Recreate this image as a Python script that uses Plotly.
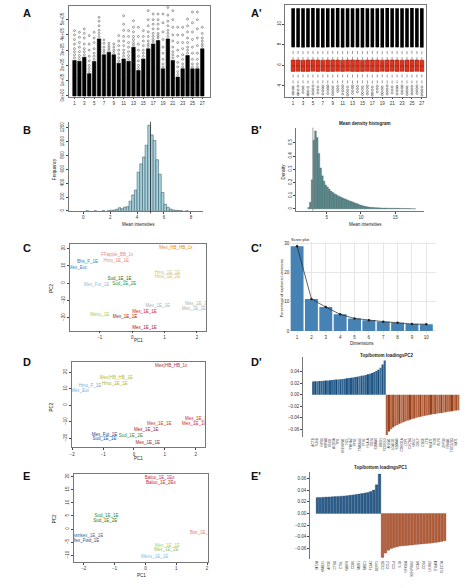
import plotly.graph_objects as go

W, H = 474, 588

# ---------------- DATA ----------------
# Panel A: raw intensities boxplots (units of 1e5)
A_samples = list(range(1, 28))
A_tick_vals = [1, 3, 5, 7, 9, 11, 13, 15, 17, 19, 21, 23, 25, 27]
A_dense_top = [2.33, 2.28, 2.54, 1.46, 2.26, 3.74, 2.70, 2.87, 2.70, 2.15, 2.43, 2.28, 3.20, 1.67,
               2.43, 3.09, 3.41, 3.63, 1.78, 3.74, 2.33, 1.24, 1.78, 2.65, 1.78, 1.78, 3.09]
A_outliers = [
    [2.5, 2.7, 2.9, 3.1, 3.4, 3.7, 4.0, 4.28], [2.45, 2.65, 2.9, 3.2, 3.5, 3.85, 4.17],
    [2.7, 2.9, 3.1, 3.4, 3.8, 4.1, 4.39], [1.6, 1.8, 2.0, 2.3, 2.6, 3.0, 3.4, 3.96],
    [2.4, 2.6, 2.8, 3.1, 3.5, 3.8, 4.17], [3.9, 4.1, 4.3, 4.6, 4.9, 5.15],
    [2.85, 3.0, 3.2, 3.45, 3.67], [3.0, 3.15, 3.3, 3.46], [2.85, 3.0, 3.2, 3.41],
    [2.3, 2.5, 2.75, 3.0, 3.3, 3.6, 3.96], [2.6, 2.8, 3.0, 3.3, 3.6, 3.9, 4.3, 4.7, 5.26],
    [2.45, 2.65, 2.9, 3.2, 3.5, 3.9, 4.28], [3.35, 3.5, 3.7, 3.9, 4.2, 4.5, 4.93],
    [1.8, 2.0, 2.3, 2.6, 3.0, 3.4, 3.9, 4.5], [2.6, 2.8, 3.0, 3.3, 3.6, 3.9, 4.28],
    [3.25, 3.4, 3.6, 3.9, 4.2, 4.6, 5.0, 5.59], [3.55, 3.7, 3.9, 4.1, 4.4, 4.7, 5.0, 5.37],
    [3.8, 3.95, 4.1, 4.4, 4.7, 5.0, 5.37], [1.9, 2.1, 2.4, 2.8, 3.2, 3.7, 4.2, 4.8, 5.37],
    [3.9, 4.1, 4.3, 4.6, 4.9, 5.3, 5.8], [2.5, 2.7, 2.9, 3.2, 3.6, 4.0, 4.5, 5.0, 5.59],
    [1.4, 1.6, 1.9, 2.2, 2.6, 3.0, 3.5, 4.0, 4.5], [1.9, 2.1, 2.4, 2.7, 3.1, 3.5, 4.0, 4.5],
    [2.8, 3.0, 3.2, 3.5, 3.8, 4.2, 4.6, 5.04], [1.9, 2.1, 2.4, 2.8, 3.2, 3.7, 4.2, 4.8, 5.5],
    [1.9, 2.1, 2.4, 2.8, 3.3, 3.8, 4.4, 5.0, 5.5], [3.25, 3.4, 3.6, 3.8, 4.1, 4.5],
]
A_ytick_vals = [0, 1, 2, 3, 4, 5]
A_ytick_text = ["0e+00", "1e+05", "2e+05", "3e+05", "4e+05", "5e+05"]

# Panel A': normalized intensities (log2)
A2_q1 = [5.40, 5.41, 5.39, 5.40, 5.42, 5.40, 5.41, 5.39, 5.40, 5.41, 5.40, 5.42, 5.40, 5.39,
         5.40, 5.41, 5.40, 5.39, 5.41, 5.40, 5.42, 5.40, 5.41, 5.39, 5.40, 5.41, 5.40]
A2_median = [5.93, 5.94, 5.92, 5.93, 5.94, 5.93, 5.92, 5.93, 5.94, 5.93, 5.92, 5.93, 5.94, 5.93,
             5.92, 5.93, 5.94, 5.93, 5.92, 5.93, 5.94, 5.93, 5.92, 5.93, 5.94, 5.93, 5.92]
A2_q3 = [6.50, 6.51, 6.49, 6.50, 6.52, 6.50, 6.49, 6.50, 6.51, 6.50, 6.49, 6.50, 6.52, 6.50,
         6.49, 6.50, 6.51, 6.50, 6.49, 6.50, 6.51, 6.50, 6.49, 6.50, 6.52, 6.50, 6.49]
A2_whisk_lo = [4.23, 4.22, 4.24, 4.23, 4.22, 4.23, 4.24, 4.23, 4.22, 4.23, 4.24, 4.23, 4.22,
               4.23, 4.24, 4.23, 4.22, 4.23, 4.24, 4.23, 4.22, 4.23, 4.24, 4.23, 4.22, 4.23, 4.24]
A2_whisk_hi = [7.74, 7.75, 7.73, 7.74, 7.75, 7.74, 7.73, 7.74, 7.75, 7.74, 7.73, 7.74, 7.75, 7.74,
               7.73, 7.74, 7.75, 7.74, 7.73, 7.74, 7.75, 7.74, 7.73, 7.74, 7.75, 7.74, 7.73]
A2_max = [11.55, 11.55, 11.54, 11.55, 11.56, 11.55, 11.54, 11.55, 11.55, 11.56, 11.55, 11.54, 11.55, 11.55,
          11.56, 11.55, 11.54, 11.55, 11.55, 11.56, 11.55, 11.54, 11.55, 11.55, 11.56, 11.55, 11.54]
A2_low_out = [[3.9, 3.7, 3.4, 3.2], [3.95, 3.6, 3.3, 3.15], [3.9, 3.65, 3.35], [3.85, 3.5, 3.25, 3.1],
              [4.0, 3.7, 3.45, 3.2], [3.9, 3.6, 3.3], [3.95, 3.75, 3.5, 3.2], [4.0, 3.8, 3.55, 3.25],
              [3.9, 3.65, 3.4, 3.15], [3.95, 3.7, 3.45], [4.0, 3.75, 3.5, 3.2], [3.9, 3.6, 3.35, 3.1],
              [4.0, 3.8, 3.5, 3.25], [3.95, 3.7, 3.4], [3.9, 3.65, 3.35, 3.15], [4.0, 3.75, 3.45, 3.2],
              [3.9, 3.6, 3.3, 3.1], [3.95, 3.7, 3.4], [3.9, 3.65, 3.35, 3.15], [4.0, 3.7, 3.45, 3.2],
              [3.9, 3.6, 3.3], [3.95, 3.75, 3.5, 3.2], [4.0, 3.8, 3.5, 3.25], [3.9, 3.65, 3.4, 3.15],
              [3.95, 3.7, 3.45, 3.2], [4.0, 3.75, 3.5, 3.25], [3.9, 3.6, 3.35, 3.1]]
A2_ytick_vals = [4, 6, 8, 10]

# Panel B: histogram of mean intensities (bin centres, width 0.2)
B_centers = [0.3, 0.9, 1.5, 1.9, 2.1, 2.3, 2.5, 2.7, 2.9, 3.1, 3.3, 3.5, 3.7, 3.9, 4.1, 4.3, 4.5,
             4.7, 4.9, 5.1, 5.3, 5.5, 5.7, 5.9, 6.1, 6.3, 6.5, 6.7, 6.9, 7.1, 7.3, 7.7]
B_counts = [3, 3, 5, 6, 8, 12, 22, 45, 30, 55, 60, 140, 230, 300, 560, 680, 780,
            950, 1240, 1100, 1020, 740, 530, 265, 95, 50, 25, 12, 8, 5, 3, 2]
B_mean_line = 5.0
B_xticks = [0, 2, 4, 6, 8]
B_yticks = [0, 200, 400, 600, 800, 1000, 1200]

# Panel B': mean density histogram (bin width 0.25)
B2_centers = [2.375, 2.625, 2.875, 3.125, 3.375, 3.625, 3.875, 4.125, 4.375, 4.625, 4.875, 5.125,
              5.375, 5.625, 5.875, 6.125, 6.375, 6.625, 6.875, 7.125, 7.375, 7.625, 7.875, 8.125,
              8.375, 8.625, 8.875, 9.125, 9.375, 9.625, 9.875, 10.125, 10.375, 10.625, 10.875,
              11.125, 11.375, 11.625, 11.875, 12.125, 12.375, 12.625, 12.875, 13.125, 13.375,
              13.625, 13.875, 14.125, 14.375, 14.625, 14.875, 15.125, 15.375, 15.625, 15.875,
              16.125, 16.375, 16.625, 16.875, 17.125, 17.375, 17.625, 17.875]
B2_density = [0.01, 0.05, 0.22, 0.52, 0.59, 0.54, 0.42, 0.31, 0.25, 0.21, 0.18, 0.165,
              0.15, 0.135, 0.125, 0.115, 0.108, 0.10, 0.094, 0.088, 0.082, 0.076, 0.07, 0.065,
              0.06, 0.055, 0.05, 0.045, 0.04, 0.035, 0.03, 0.026, 0.022, 0.019, 0.016,
              0.014, 0.012, 0.011, 0.01, 0.009, 0.008, 0.0075, 0.007, 0.0065, 0.006,
              0.0058, 0.0055, 0.0052, 0.005, 0.0048, 0.0045, 0.0042, 0.004, 0.0038, 0.0035,
              0.0032, 0.003, 0.0027, 0.0024, 0.002, 0.0017, 0.0014, 0.001]
B2_line = 3.0
B2_xticks = [5, 10, 15]
B2_yticks = [0.0, 0.1, 0.2, 0.3, 0.4, 0.5]

# Panel C: PCA
C_labels = ["Mex_HB_HB_1x", "FFapple_BB_1x", "Hmo_1E_1E", "Bhs_F_1E", "Mex_Eut", "Hmo_1E_1E",
            "Hmo_1E_2E", "Sud_1E_1E", "Sud_1E_2E", "Mex_Fut_1E", "Mex_1E_1E", "Mex_1E_1",
            "Mex_1E_2E", "Mex_1E_1E", "Mexu_1E", "Mex_1E_1E", "Mex_1E_1E"]
C_pc1 = [1.35, -0.46, -0.49, -1.38, -1.68, 1.09, 1.09, -0.39, -0.24, -1.1, 0.79, 1.96, 1.91,
         0.38, -1.0, -0.22, 0.38]
C_pc2 = [20.6, 16.2, 13.0, 12.2, 8.8, 6.2, 3.4, 2.3, -0.4, -1.0, -13.0, -12.0, -15.0, -16.6,
         -18.5, -19.6, -25.7]
C_colors = ["#e8891a", "#e38f86", "#e38f86", "#2f7fbf", "#2f7fbf", "#d9c35a", "#d9c35a",
            "#1e6e1e", "#2a9a2a", "#8fbcd8", "#b0b0b0", "#b0b0b0", "#b0b0b0", "#d62020",
            "#8fd16a", "#a01a1a", "#a01a1a"]

# Panel C': scree plot
C2_dims = [1, 2, 3, 4, 5, 6, 7, 8, 9, 10]
C2_var = [29.1, 11.0, 8.2, 5.7, 4.3, 3.7, 3.2, 2.8, 2.4, 2.3]

# Panel D: PCA
D_labels = ["Mex(HB_HB_1x", "Mex(HB_HB_1E", "Hmo_1E_1E", "Hmo_F_1E", "Mex_Eut", "Mex_1E_1",
            "Mex_1E_1E", "Mex_1E_1E", "Mex_1E_1E", "Mex_Fut_1E", "Sud_1E_1E", "Sud_1E_2E",
            "Mex_1E_1E"]
D_pc1 = [1.2, -0.57, -0.62, -1.43, -1.75, 2.0, 1.95, 0.82, 0.4, -0.95, -0.95, -0.1, 0.45]
D_pc2 = [24.0, 16.6, 13.0, 11.6, 8.6, -8.6, -11.4, -11.6, -15.0, -17.8, -20.6, -18.8, -23.0]
D_colors = ["#b03030", "#b5b83a", "#a8b040", "#6fb0d8", "#6fb0d8", "#d02828", "#d02828",
            "#c83030", "#a02020", "#1f3f8f", "#2255aa", "#3a8a3a", "#a02020"]

# Panel D': top/bottom loadings PC2
D2_genes = ("ACTB GAPDH TUBB RPL13 RPS6 EEF1A1 HSPA8 PKM ENO1 LDHA ALDOA PGK1 TPI1 PPIA HNRNPA1 "
            "NPM1 NCL PABPC1 YWHAZ CFL1 PFN1 MYL6 TMSB4X FTL FTH1 B2M HLA-A HLA-B CD74 LYZ S100A9 "
            "S100A8 SRGN TYROBP FCER1G VIM ANXA1 ANXA2 LGALS1 S100A4 S100A6 CD52 CORO1A ARHGDIB "
            "LCP1 PTPRC CXCR4 CCL5 NKG7 GZMA GNLY IL7R CD3E CD2 LTB MALAT1 NEAT1 JUN FOS DUSP1 "
            "KLF6 IER2 ZFP36 EGR1 NR4A1 CD69 TSC22D3 TXNIP SAT1 SOD2").split()
D2_top = [0.0229, 0.0231, 0.0233, 0.0235, 0.0237, 0.0240, 0.0243, 0.0246, 0.0249, 0.0252,
          0.0256, 0.0260, 0.0264, 0.0268, 0.0272, 0.0277, 0.0282, 0.0287, 0.0292, 0.0298,
          0.0304, 0.0310, 0.0317, 0.0325, 0.0333, 0.0342, 0.0352, 0.0363, 0.0376, 0.0390,
          0.0408, 0.0430, 0.0465, 0.0520, 0.0589]
D2_bottom = [-0.0697, -0.064, -0.060, -0.057, -0.0545, -0.0525, -0.0505, -0.049, -0.0475, -0.046,
             -0.0447, -0.0435, -0.0423, -0.0412, -0.0402, -0.0392, -0.0383, -0.0375, -0.0367,
             -0.036, -0.0353, -0.0346, -0.034, -0.0334, -0.0328, -0.0322, -0.0316, -0.031,
             -0.0304, -0.0298, -0.0292, -0.0286, -0.028, -0.0275, -0.0269]
D2_yticks = [0.04, 0.02, 0.0, -0.02, -0.04, -0.06]

# Panel E: PCA
E_labels = ["Baloo_1E_1Ex", "Baloo_1E_2Ex", "Sud_1E_1E", "Sud_1E_2E", "Bwt_1E_1", "Bwnkex_1E_1E",
            "Mex_Fwd_1E", "Mex_1E_1E", "Mex_1E_2E", "Mexu_1E_1E"]
E_pc1 = [0.46, 0.50, -1.26, -1.30, 1.78, -1.88, -1.94, 0.71, 0.68, 0.30]
E_pc2 = [19.4, 17.6, 5.1, 3.3, -1.3, -2.6, -4.6, -6.3, -8.1, -10.8]
E_colors = ["#d03040", "#c02838", "#2a8a2a", "#1f7a1f", "#e88080", "#2a6aa8", "#1f4f8f",
            "#a8d070", "#98c060", "#8ab8d8"]

# Panel E': top/bottom loadings PC1
E2_genes = ("MT2A MT1X HMOX1 SPP1 APOE APOC1 CTSB CTSD CTSL LIPA FABP4 FABP5 CD36 MARCO MSR1 CD163 "
            "MRC1 LYVE1 F13A1 FOLR2 SEPP1 C1QA C1QB C1QC CCL2 CCL3 CCL4 CXCL8 IL1B TNF NFKBIA PTGS2 "
            "SERPINB2 THBS1 VCAN FCN1 CD14 FCGR3A LILRB2 CSF1R ITGAM ITGAX CLEC7A TLR2").split()
E2_top = [0.0272, 0.0275, 0.0278, 0.0280, 0.0283, 0.0286, 0.0289, 0.0292, 0.0296, 0.0300, 0.0305,
          0.0310, 0.0318, 0.0325, 0.0332, 0.0340, 0.0350, 0.0360, 0.0375, 0.0400, 0.0490, 0.0674]
E2_bottom = [-0.0754, -0.068, -0.063, -0.060, -0.0585, -0.057, -0.056, -0.0555, -0.055, -0.0545,
             -0.054, -0.0535, -0.053, -0.0525, -0.052, -0.0515, -0.051, -0.0505, -0.050, -0.049,
             -0.048, -0.047]
E2_yticks = [0.06, 0.04, 0.02, 0.0, -0.02, -0.04, -0.06]

# ---------------- HELPERS ----------------
FONT = "Liberation Sans, Arial, sans-serif"
TICKF = dict(family=FONT, size=4.5, color="#333")


def dx(a, b):
    return [a / W, b / W]


def dy(top, bottom):
    return [1 - bottom / H, 1 - top / H]


def px(x, y):
    return x / W, 1 - y / H


fig = go.Figure()
layout = dict(width=W, height=H, margin=dict(l=0, r=0, t=0, b=0), paper_bgcolor="white",
              plot_bgcolor="white", showlegend=False, bargap=0.05,
              font=dict(family=FONT, size=5, color="#222"))
annotations = []


def axis(n, xdom, ydom, xr, yr, xkw=None, ykw=None, frame=False):
    base = dict(showgrid=False, zeroline=False, ticks="outside", ticklen=2, tickwidth=0.6,
                tickcolor="#444", tickfont=TICKF, linecolor="#777", linewidth=0.6)
    xa = dict(base, domain=xdom, range=xr, anchor="y%d" % n, showline=True, mirror=frame)
    ya = dict(base, domain=ydom, range=yr, anchor="x%d" % n, showline=True, mirror=frame)
    if xkw:
        xa.update(xkw)
    if ykw:
        ya.update(ykw)
    layout["xaxis%d" % n] = xa
    layout["yaxis%d" % n] = ya


def note(text, x, y, size=5, bold=False, angle=0, color="#222", xanchor="center"):
    xx, yy = px(x, y)
    annotations.append(dict(text=("<b>%s</b>" % text) if bold else text, x=xx, y=yy,
                            xref="paper", yref="paper", showarrow=False, textangle=angle,
                            font=dict(family=FONT, size=size, color=color), xanchor=xanchor,
                            yanchor="middle"))


# ---------------- PANEL A ----------------
axis(1, dx(67, 209), dy(5, 97), [-0.2, 28.5], [-0.07, 5.9],
     xkw=dict(tickvals=A_tick_vals, ticklen=1.5),
     ykw=dict(tickvals=A_ytick_vals, ticktext=A_ytick_text, tickangle=-90), frame=True)
fig.add_trace(go.Box(x=A_samples, q1=[0] * 27, median=[t / 2 for t in A_dense_top], q3=A_dense_top,
                     lowerfence=[0] * 27, upperfence=A_dense_top, width=0.7, fillcolor="black",
                     line=dict(color="black", width=0.6), whiskerwidth=0, boxpoints=False,
                     xaxis="x1", yaxis="y1"))
ox, oy = [], []
for s, vals in zip(A_samples, A_outliers):
    for v in vals:
        ox.append(s)
        oy.append(v)
fig.add_trace(go.Scatter(x=ox, y=oy, mode="markers", xaxis="x1", yaxis="y1",
                         marker=dict(symbol="circle-open", size=2.0, color="#444",
                                     line=dict(width=0.5))))

# ---------------- PANEL A' ----------------
axis(2, dx(285, 427), dy(4, 97), [-0.6, 27.9], [2.91, 11.86],
     xkw=dict(tickvals=A_tick_vals, ticklen=1.5),
     ykw=dict(tickvals=A2_ytick_vals, tickangle=-90), frame=True)
fig.add_trace(go.Bar(x=A_samples, y=[m - w for m, w in zip(A2_max, A2_whisk_hi)], base=A2_whisk_hi,
                     width=0.72, marker=dict(color="black", line=dict(width=0)),
                     xaxis="x2", yaxis="y2"))
wx, wy = [], []
for s, lo, q1, q3, hi in zip(A_samples, A2_whisk_lo, A2_q1, A2_q3, A2_whisk_hi):
    wx += [s, s, None, s, s, None]
    wy += [lo, q1, None, q3, hi, None]
fig.add_trace(go.Scatter(x=wx, y=wy, mode="lines", line=dict(color="#555", width=0.6, dash="dot"),
                         xaxis="x2", yaxis="y2"))
fig.add_trace(go.Box(x=A_samples, q1=A2_q1, median=A2_median, q3=A2_q3, lowerfence=A2_q1,
                     upperfence=A2_q3, width=0.8, fillcolor="#e2321c",
                     line=dict(color="#7a1a0e", width=0.5), whiskerwidth=0, boxpoints=False,
                     xaxis="x2", yaxis="y2"))
lx, ly = [], []
for s, vals in zip(A_samples, A2_low_out):
    for v in vals:
        lx.append(s)
        ly.append(v)
fig.add_trace(go.Scatter(x=lx, y=ly, mode="markers", xaxis="x2", yaxis="y2",
                         marker=dict(symbol="circle-open", size=2.0, color="#444",
                                     line=dict(width=0.5))))

# ---------------- PANEL B ----------------
axis(3, dx(67, 202), dy(122, 212), [-1.09, 8.88], [0, 1290],
     xkw=dict(tickvals=B_xticks), ykw=dict(tickvals=B_yticks, tickangle=-90))
fig.add_trace(go.Bar(x=B_centers, y=B_counts, width=0.2, xaxis="x3", yaxis="y3",
                     marker=dict(color="#a8d3de", line=dict(color="#2b4a56", width=0.5))))
layout.setdefault("shapes", []).append(dict(type="line", xref="x3", yref="y3 domain",
                                            x0=B_mean_line, x1=B_mean_line, y0=-0.03, y1=1.0,
                                            line=dict(color="#333", width=0.8)))

# ---------------- PANEL B' ----------------
axis(4, dx(296, 425), dy(128, 212), [0.55, 19.25], [-0.015, 0.615],
     xkw=dict(tickvals=B2_xticks), ykw=dict(tickvals=B2_yticks, tickangle=-90, showline=True))
fig.add_trace(go.Bar(x=B2_centers, y=B2_density, width=0.25, xaxis="x4", yaxis="y4",
                     marker=dict(color="#5e8f91", line=dict(color="#2c4c4e", width=0.3))))
layout["shapes"].append(dict(type="line", xref="x4", yref="y4 domain", x0=B2_line, x1=B2_line,
                             y0=0, y1=1.0, line=dict(color="#888", width=0.8)))

# ---------------- PANEL C ----------------
axis(5, dx(68, 205), dy(246, 333), [-1.93, 2.27], [-27.4, 22.3],
     xkw=dict(tickvals=[-1, 0, 1, 2]), ykw=dict(tickvals=[20, 10, 0, -10, -20], tickangle=-90),
     frame=True)
fig.add_trace(go.Scatter(x=C_pc1, y=C_pc2, mode="text", text=C_labels, xaxis="x5", yaxis="y5",
                         textfont=dict(family=FONT, size=4.5, color=C_colors)))

# ---------------- PANEL C' ----------------
axis(6, dx(290, 437), dy(243, 336), [0.52, 10.69], [-0.9, 30.7],
     xkw=dict(tickvals=C2_dims, showline=False, ticks=""),
     ykw=dict(tickvals=[0, 10, 20, 30], showline=False, ticks=""))
layout["xaxis6"].update(showgrid=True, gridcolor="#e6e6e6", gridwidth=0.5)
layout["yaxis6"].update(showgrid=True, gridcolor="#e6e6e6", gridwidth=0.5)
fig.add_trace(go.Bar(x=C2_dims, y=C2_var, width=0.9, xaxis="x6", yaxis="y6",
                     marker=dict(color="#4682b4", line=dict(width=0))))
fig.add_trace(go.Scatter(x=C2_dims, y=C2_var, mode="lines+markers", xaxis="x6", yaxis="y6",
                         line=dict(color="#222", width=0.7), marker=dict(size=2.5, color="#222")))

# ---------------- PANEL D ----------------
axis(7, dx(70, 204), dy(365, 451), [-2.02, 2.29], [-25.6, 26.0],
     xkw=dict(tickvals=[-2, -1, 0, 1, 2]), ykw=dict(tickvals=[20, 10, 0, -10, -20], tickangle=-90),
     frame=True)
fig.add_trace(go.Scatter(x=D_pc1, y=D_pc2, mode="text", text=D_labels, xaxis="x7", yaxis="y7",
                         textfont=dict(family=FONT, size=4.5, color=D_colors)))

# ---------------- PANEL D' ----------------
blue_sh = ["#2c6191", "#1d4a73", "#3872a2", "#24557f", "#2f6696"]
oran_sh = ["#b4603b", "#8f4226", "#c4714a", "#a0502f", "#b96a42"]
nb = len(D2_top)
axis(8, dx(303, 462), dy(360, 440), [-4.8, 70.3], [-0.0725, 0.0646],
     xkw=dict(type="category", showline=False, ticks="", tickangle=-90,
              tickfont=dict(family=FONT, size=3.2, color="#333")),
     ykw=dict(tickvals=D2_yticks, tickformat=".2f"))
fig.add_trace(go.Bar(x=D2_genes[:nb], y=D2_top, width=1.0, xaxis="x8", yaxis="y8",
                     marker=dict(color=[blue_sh[i % 5] for i in range(nb)], line=dict(width=0))))
fig.add_trace(go.Bar(x=D2_genes[nb:nb + len(D2_bottom)], y=D2_bottom, width=1.0, xaxis="x8",
                     yaxis="y8",
                     marker=dict(color=[oran_sh[i % 5] for i in range(len(D2_bottom))],
                                 line=dict(width=0))))

# ---------------- PANEL E ----------------
axis(9, dx(72, 207), dy(478, 567), [-2.33, 2.02], [-12.65, 20.95],
     xkw=dict(tickvals=[-2, -1, 0, 1, 2]),
     ykw=dict(tickvals=[20, 15, 10, 5, 0, -5, -10], tickangle=-90), frame=True)
fig.add_trace(go.Scatter(x=E_pc1, y=E_pc2, mode="text", text=E_labels, xaxis="x9", yaxis="y9",
                         textfont=dict(family=FONT, size=4.5, color=E_colors)))

# ---------------- PANEL E' ----------------
ne = len(E2_top)
axis(10, dx(310, 449), dy(476, 564), [-2.5, 44.2], [-0.0786, 0.0708],
     xkw=dict(type="category", showline=False, ticks="", tickangle=-90,
              tickfont=dict(family=FONT, size=3.2, color="#333")),
     ykw=dict(tickvals=E2_yticks, tickformat=".2f"))
fig.add_trace(go.Bar(x=E2_genes[:ne], y=E2_top, width=0.9, xaxis="x10", yaxis="y10",
                     marker=dict(color="#2d5f8d", line=dict(color="#1c3f60", width=0.3))))
fig.add_trace(go.Bar(x=E2_genes[ne:ne + len(E2_bottom)], y=E2_bottom, width=0.9, xaxis="x10",
                     yaxis="y10",
                     marker=dict(color="#b5603d", line=dict(color="#7e3b22", width=0.3))))

# ---------------- TEXT ----------------
for lab, x, y in [("A", 25, 12), ("A'", 256, 12), ("B", 25, 130), ("B'", 256, 130),
                  ("C", 25, 250), ("C'", 256, 250), ("D", 25, 365), ("D'", 256, 365),
                  ("E", 25, 480), ("E'", 256, 480)]:
    note(lab, x, y, size=11, bold=True, color="#111")

note("Mean intensities", 137, 226, size=4.5)
note("Frequency", 53, 170, size=4.5, angle=-90)
note("Mean density histogram", 365, 124, size=4.5, bold=True)
note("Mean intensities", 366, 226, size=4.5)
note("Density", 283, 172, size=4.5, angle=-90)
note("PC1", 137, 343, size=4.5)
note("PC2", 49, 290, size=4.5, angle=-90)
note("Scree plot", 289, 241, size=4, xanchor="left")
note("Dimensions", 362, 346, size=4.5)
note("Percentage of explained variances", 282, 290, size=3.8, angle=-90)
note("PC1", 137, 462, size=4.5)
note("PC2", 50, 410, size=4.5, angle=-90)
note("Top/bottom loadingsPC2", 387, 358, size=4.5, bold=True)
note("PC1", 140, 580, size=4.5)
note("PC2", 53, 523, size=4.5, angle=-90)
note("Top/bottom loadingsPC1", 381, 471, size=4.5, bold=True)

layout["annotations"] = annotations
fig.update_layout(**layout)
fig.write_html("out.html")
